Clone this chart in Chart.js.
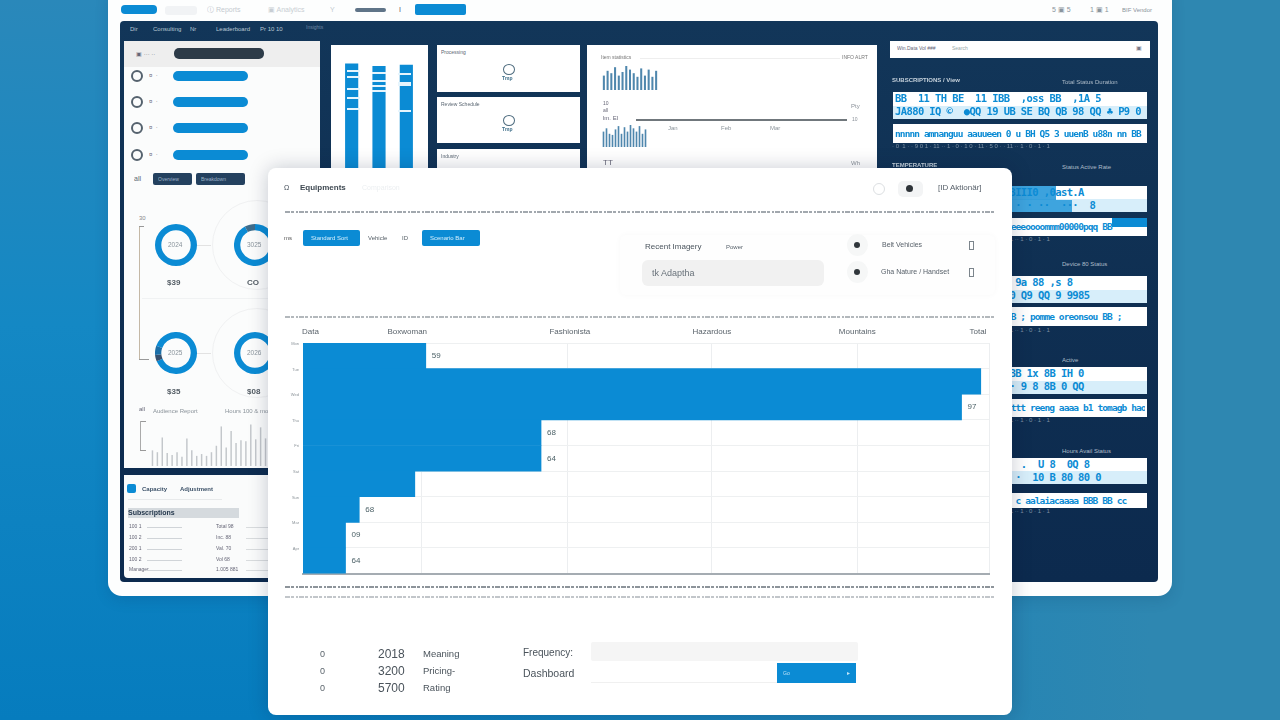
<!DOCTYPE html>
<html><head><meta charset="utf-8">
<script src="https://cdn.jsdelivr.net/npm/chart.js@4"></script>
<style>
html,body{margin:0;padding:0;width:1280px;height:720px;overflow:hidden}
#stage{position:absolute;left:0;top:0;width:1280px;height:720px;overflow:hidden;filter:blur(.4px);
 background:linear-gradient(90deg,rgba(46,135,177,0) 25%,#2e87b1 90%),linear-gradient(180deg,#2a88ba 0%,#1488c4 45%,#067cbe 100%);font-family:"Liberation Sans",sans-serif;color:#3c4650}
#stage div{position:absolute;box-sizing:border-box;white-space:pre;overflow:hidden}
#stage canvas{position:absolute}
</style></head><body><div id="stage"></div>
<script>
/* ---------- main chart data ---------- */
const rowLabels=['Mon','Tue','Wed','Thu','Fri','Sat','Sun','Mar','Apr'];
const rowValues=[17.9,98.8,96.0,34.7,34.7,16.3,8.2,6.2,6.2];
const rowTexts=['59','','97','68','64','','68','09','64'];
const gridTicks=[17.3,38.6,59.6,80.8,100];
const axisTickValues=[1.1,15.2,38.9,59.6,80.8,98.4];
const axisTickTexts=['Data','Boxwoman','Fashionista','Hazardous','Mountains','Total'];
/* ---------- small chart data ---------- */
const columnNames=['A','B','C'];
const columnValues=[93,91,92];
const donutOne=[100];
const donutTwo=[92,8];
const donutThree=[88,5,7];
const donutFour=[100];
const miniNames=['a','b','c','d','e','f','g','h','i','j','k','l','m','n','o','p','q','r','s','t','u','v','w','x'];
const miniValues=[34,30,62,28,24,30,20,60,34,22,26,22,30,44,86,40,76,50,56,54,90,58,84,60];
const sparkNames=['a','b','c','d','e','f','g','h','i','j','k','l','m','n','o'];
const sparkTop=[60,80,70,95,60,75,100,85,70,55,90,60,85,55,80];
const sparkLow=[70,85,60,55,80,95,60,90,70,100,85,70,95,60,80];

const S=document.getElementById('stage');
function box(x,y,w,h,css,txt){const d=document.createElement('div');
 d.style.cssText=`left:${x}px;top:${y}px;width:${w}px;height:${h}px;`+(css||'');
 if(txt!==undefined)d.textContent=txt;S.appendChild(d);return d;}
function label(x,y,txt,size,color,extra){return box(x,y-size*.7,txt.length*size+20,size*1.4,
 `font-size:${size}px;line-height:${size*1.4}px;color:${color||'#48525c'};`+(extra||''),txt);}
function chartAt(x,y,w,h,cfg){const c=document.createElement('canvas');
 c.style.cssText=`left:${x}px;top:${y}px;width:${w}px;height:${h}px`;c.width=w;c.height=h;S.appendChild(c);
 cfg.options=Object.assign({responsive:false,animation:false,devicePixelRatio:1},cfg.options);
 cfg.options.plugins=Object.assign({legend:{display:false},tooltip:{enabled:false}},cfg.options.plugins);
 return new Chart(c,cfg);}
const BLUE='#0b8bd4',NAVY='#0f2f52';

/* back window */
box(108,-14,1064,610,'background:#fdfefe;border-radius:14px;box-shadow:0 4px 14px rgba(0,40,80,.15)');
box(120,21,1038,561,`background:linear-gradient(180deg,#123659 0%,#0f2f52 50%,#0c2a4e 100%);border-radius:4px`);
box(121,5,36,9,`background:${BLUE};border-radius:4px`);
box(165,6,32,9,'background:#f1f3f5;border-radius:3px');
label(207,10,'Ⓘ Reports',7,'#c4cad0');label(268,10,'▣ Analytics',7,'#c8ced3');label(330,10,'Y',7,'#c4cad0');
box(355,8,31,3.5,'background:#5f7488;border-radius:2px');label(399,10,'I',7,'#556');
box(415,4,51,11,`background:${BLUE};border-radius:2px`);
label(1052,10,'5 ▣ 5',7,'#8a949c');label(1090,10,'1 ▣ 1',7,'#8a949c');label(1122,10,'BIF Vendor',6,'#8a949c');
label(130,29,'Dir',6,'#b9c6d3');label(153,29,'Consulting',6,'#b9c6d3');label(190,29,'Nr',6,'#b9c6d3');label(216,29,'Leaderboard',6,'#b9c6d3');label(260,29,'Pr 10 10',6,'#b9c6d3');label(306,27,'Insights',5,'#6d88a3');

/* left panel */
box(124,41,196,427,'background:#fbfcfc');
box(124,41,196,26,'background:#eeeeee');
box(174,48,90,11,'background:#2d3b48;border-radius:5px');
label(136,54,'▣ ··· ··',6,'#667');
[71,97,123,150].forEach(y=>{box(173,y,75,9.5,`background:${BLUE};border-radius:5px`);
 box(131,y-1,12,12,'border:2px solid #55626e;border-radius:50%');label(149,y+4,'¤  ·',6,'#667');});
label(134,179,'all',7,'#5a6772');
box(153,173,39,12,'background:#24415f;border-radius:2px');box(196,173,49,12,'background:#24415f;border-radius:2px');
label(158,179,'Overview',5,'#9fb4c9');label(201,179,'Breakdown',5,'#9fb4c9');
label(139,218,'30',6,'#888');
box(139,226,1,134,'background:#c4b8a6');box(139,226,5,1,'background:#999');box(139,359,10,1,'background:#999');
box(142,298,126,1,'background:#f0f2f3');
box(212,200,90,90,'border:1px solid #f0f1f2;border-radius:50%');box(212,308,90,90,'border:1px solid #f0f1f2;border-radius:50%');
box(197,245,14,1,'background:#e2e2e2');box(197,353,14,1,'background:#e2e2e2');
[[155,224,donutOne,[BLUE]],[234,224,donutTwo,[BLUE,'#3f6d8c']],[155,332,donutThree,[BLUE,'#36506e','#1b6fa8']],[234,332,donutFour,[BLUE]]].forEach(d=>{
 chartAt(d[0],d[1],42,42,{type:'doughnut',data:{labels:d[2].map((_,i)=>'s'+i),datasets:[{data:d[2],backgroundColor:d[3],borderWidth:0}]},options:{cutout:'70%',rotation:d[2]===donutThree?-70:0,layout:{padding:0}}});});
label(168,245,'2024',6.5,'#8a949c');label(247,245,'3025',6.5,'#8a949c');label(168,353,'2025',6.5,'#8a949c');label(247,353,'2026',6.5,'#8a949c');
label(167,283,'$39',8,'#555e66','font-weight:bold');label(247,283,'CO',8,'#555e66','font-weight:bold');
label(167,392,'$35',8,'#555e66','font-weight:bold');label(247,392,'$08',8,'#555e66','font-weight:bold');
label(139,409,'all',6,'#667');label(153,411,'Audience Report',6,'#8b939a');label(225,411,'Hours 100 & more',6,'#8b939a');
box(140,421,6,1,'background:#999');box(140,421,1,30,'background:#aaa');box(140,450,6,1,'background:#999');
chartAt(150,420,118,46,{type:'bar',data:{labels:miniNames,datasets:[{data:miniValues,backgroundColor:'#c3c7cb',barPercentage:.3,categoryPercentage:1}]},
 options:{layout:{padding:0},scales:{x:{display:false},y:{display:false,min:0,max:100}}}});

/* bottom-left table */
box(124,475,196,103,'background:#fafbfb;border-radius:0 0 0 4px');
box(127,484,9,9,`background:${BLUE};border-radius:2px`);
label(142,489,'Capacity',6,'#3c5168','font-weight:bold');label(180,489,'Adjustment',6,'#3c5168','font-weight:bold');
box(128,499,94,1,'background:#e8eaeb');
label(128,513,'Subscriptions',7,'#25384d','font-weight:bold;background:#d5dade');
[[526,'100 1','Total 98'],[537,'100 2','Inc. 88'],[548,'200 1','Val. 70'],[559,'100 2','Vol 68'],[569,'Manager','1.005 881']].forEach(r=>{
 label(129,r[0],r[1],5,'#667');box(147,r[0]+1,35,1,'background:#d0d4d8');label(216,r[0],r[2],5,'#667');box(246,r[0]+1,24,1,'background:#d9dcde');});

/* column panel */
box(331,45,97,140,'background:#fff');
chartAt(338,55,82,125,{type:'bar',data:{labels:columnNames,datasets:[{data:columnValues,backgroundColor:BLUE,barThickness:12.5}]},
 options:{layout:{padding:0},scales:{x:{display:false},y:{display:false,min:0,max:100}}}});
[[347,70],[347,76],[347,88],[347,97],[347,108],[372,72],[372,80],[372,85],[372,90],[398,73],[398,82],[398,84],[410,110]].forEach(m=>box(m[0]>=410?398:m[0],m[1],m[0]===372?14:13,1.6,'background:#e6f5fd'));
/* three small cards */
[[45,47,'Processing'],[97,46,'Review Schedule'],[149,30,'Industry']].forEach(c=>{box(437,c[0],143,c[1],'background:#fff');label(441,c[0]+7,c[2],5,'#5a6672');});
[71,122].forEach(y=>{box(503,y-7,12,11,'border:1.5px solid #4d6b7e;border-radius:50%');label(502,y+7,'Tmp',5,'#3f6f8a','font-weight:bold');});

/* big spark panel */
box(587,45,290,130,'background:#fff');
label(601,57,'Item statistics',5,'#777');box(640,58,200,1,'background:#eee');label(842,57,'INFO ALRT',5,'#777');
chartAt(602,66,56,24,{type:'bar',data:{labels:sparkNames,datasets:[{data:sparkTop,backgroundColor:'#4f87ad',barPercentage:.55,categoryPercentage:1}]},
 options:{layout:{padding:0},scales:{x:{display:false},y:{display:false,min:0,max:100}}}});
chartAt(602,125,45,22,{type:'bar',data:{labels:sparkNames,datasets:[{data:sparkLow,backgroundColor:'#4f87ad',barPercentage:.55,categoryPercentage:1}]},
 options:{layout:{padding:0},scales:{x:{display:false},y:{display:false,min:0,max:100}}}});
box(636,119,211,1.6,'background:#70777c');
label(603,103,'10',5,'#667');label(603,110,'all',5,'#667');label(603,118,'lm. El',6,'#667');
label(851,106,'Pty',6,'#8a9199');label(852,119,'10',5,'#8a9199');label(851,163,'Wh',6,'#8a9199');
label(668,128,'Jan',6,'#8b949b');label(721,128,'Feb',6,'#8b949b');label(770,128,'Mar',6,'#8b949b');
label(603,163,'TT',8,'#667');

/* sidebar */
box(890,41,260,17,'background:#fff');
label(897,48,'Win.Data Vol ###',5,'#667');label(952,48,'Search',5,'#9aa');label(1136,48,'▣',6,'#778');
const sideHeads=[[80,'SUBSCRIPTIONS / View','Total Status Duration'],[165,'TEMPERATURE','Status Active Rate'],[262,'TOTAL/FREQUENCY','Device 80 Status'],[358,'LOCATION/BINARY','Active'],[449,'TRAFFIC','Hours Avail Status']];
sideHeads.forEach(h=>{label(892,h[0],h[1],6,'#c6d2dc','font-weight:bold');label(1062,h[0]+2,h[2],6,'#aebcc9');});
const sideRows=[
[92,27,'BB  11 TH BE  11 IBB  ,oss BB  ,1A 5','JA880 IQ ©  ●QQ 19 UB SE BQ QB 98 QQ ♣ P9 0 Q'],
[186,26,'BB 9A0 BE BH 88 9A  3III0 ,0ast.A','BB 88 BQ 7B BA 98 ·  · · ··  ···  8'],
[276,27,'BB 10 II  .IB  W  RH 9a 88 ,s 8','BB0 7 Q 81 BB 88 BB 0 Q9 QQ 9 9985'],
[367,27,'AB 10 11 ,9 BB II  ,BB 1x 8B IH 0','BB 8H 8 P 9Q 8B 8B ·· 9 8 8B 0 QQ'],
[458,26,'BA 90 A1  ,o1,   ,II  .  U 8  0Q 8','QQ BH 8B 8B 10 10 8H ·  10 B 80 80 0']];
const sideThin=[[124,19,'nnnnn amnanguu aauueen 0 u BH Q5 3 uuenB u88n nn BB BB uuu88u ua nna'],[218,18,'ssssss ee0eeee BB ABB0 ceeeoooommm00000pqq BB'],[307,19,'w.p BB ; pommeoreonsou BB ; pomme oreonsou BB ;'],[399,18,'aaaaa aa8 bb eee aaaa1 tttt reeng aaaa b1 tomagb hao'],[493,15,'aaaaa888 Qq aaauu  ee Bc c aalaiacaaaa BBB BB cc']];
sideRows.forEach(r=>{box(893,r[0],254,r[1],'background:#fff');
 box(893,r[0]+r[1]*.5,254,r[1]*.5,'background:#d7eefa');
 const T=`font-family:"DejaVu Sans Mono";font-weight:bold;font-size:10.5px;letter-spacing:-.6px;color:${BLUE};`;
 box(895,r[0]+0,250,13,T+'line-height:13px',r[2]);box(895,r[0]+13,250,13,T+'line-height:13px',r[3]);});
sideThin.forEach(r=>{box(893,r[0],254,r[1],'background:#fff');
 box(895,r[0],250,r[1],`font-family:"DejaVu Sans Mono";font-weight:bold;font-size:9.5px;letter-spacing:-.9px;line-height:${r[1]}px;color:${BLUE}`,r[2]);});
box(1012,186,44,14,`background:${BLUE};opacity:.8`);box(1012,200,60,12,`background:${BLUE};opacity:.75`);box(1112,218,35,9,`background:${BLUE}`);
[[146],[239],[330],[420],[511]].forEach(r=>label(892,r[0],'· 0  1 · · 9 0 1 · 11 ·· 1 · 0 · 1 0 · 11 · 5 0 · · 11 ·· 1 · 0 · 1 · 1',6,'#7d90a3'));

/* main card */
box(268,168,744,547,'background:#fff;border-radius:8px;box-shadow:0 0 20px rgba(0,20,50,.22)');
label(284,188,'Ω',7,'#4b5560');label(300,188,'Equipments',8,'#3f4952','font-weight:bold');label(362,188,'Comparison',7,'#eceff1');
box(873,183,12,12,'border:1px solid #dcdfe2;border-radius:50%');
box(898,181,25,16,'background:#f3f4f5;border-radius:5px');box(906,185,7,7,'background:#2e3338;border-radius:50%');
label(938,188,'[ID Aktionär]',8,'#565f68');
function dashes(y,col){box(285,y,710,1.5,`background:repeating-linear-gradient(90deg,${col} 0 5px,transparent 5px 6px,${col} 6px 9px,transparent 9px 11px,${col} 11px 13px,transparent 13px 14px)`);}
dashes(211,'#a2a8ae');dashes(316,'#b3b8bc');dashes(586,'#8d949a');dashes(596,'#c2c6ca');
label(284,238,'ms',6,'#555');
box(303,230,57,16,`background:${BLUE};border-radius:2px`);box(422,230,58,16,`background:${BLUE};border-radius:2px`);
label(311,238,'Standard Sort',6,'#d6effc');label(430,238,'Scenario Bar',6,'#d6effc');
label(368,238,'Vehicle',6,'#555e66');label(402,238,'ID',6,'#555e66');
box(620,235,375,60,'background:#fefefe;box-shadow:0 0 6px rgba(0,0,0,.03);border-radius:6px');
label(645,247,'Recent Imagery',8,'#4a545d');label(726,247,'Power',6,'#5a646d');
box(642,260,182,26,'background:#f1f1f1;border-radius:6px');label(652,273,'tk Adaptha',9,'#69727a');
[245,272].forEach(y=>{box(847,y-11,21,22,'background:#f6f7f7;border-radius:50%');box(854,y-3,6,6,'background:#30363b;border-radius:50%');box(969,y-4,5,9,'border:1px solid #7c858c');});
label(882,245,'Belt Vehicles',7,'#565f68');label(881,272,'Gha Nature / Handset',7,'#565f68');

const valueLabels={id:'valueLabels',afterDatasetsDraw(ch){const g=ch.ctx;g.save();g.font='8px "Liberation Sans"';g.fillStyle='#4d6268';g.textBaseline='middle';
 ch.getDatasetMeta(0).data.forEach((el,i)=>{if(rowTexts[i])g.fillText(rowTexts[i],el.x+6,el.y);});g.restore();}};
chartAt(280,322,720,258,{type:'bar',plugins:[valueLabels],data:{labels:rowLabels,datasets:[{data:rowValues,xAxisID:'x',yAxisID:'y',backgroundColor:BLUE,barPercentage:1,categoryPercentage:1,borderWidth:0}]},
 options:{indexAxis:'y',layout:{padding:{right:11,left:0,top:0,bottom:5}},scales:{
  x:{type:'linear',position:'bottom',min:0,max:100,afterBuildTicks(s){s.ticks=gridTicks.map(v=>({value:v}));},
     grid:{color:'#eceef0',drawTicks:false},border:{color:'#a5acb2',width:2},ticks:{display:false}},
  xTop:{type:'linear',position:'top',min:0,max:100,afterBuildTicks(s){s.ticks=axisTickValues.map(v=>({value:v}));},
     grid:{display:false,drawTicks:false},border:{display:false},afterFit(s){s.height=21;},
     ticks:{autoSkip:false,maxRotation:0,padding:6,font:{size:8,family:'Liberation Sans'},color:'#5b646c',callback(v,i){return axisTickTexts[i];}}},
  y:{type:'category',afterFit(s){s.width=23;},grid:{color:'#eef0f1',drawTicks:false},border:{display:false},
     ticks:{autoSkip:false,padding:4,labelOffset:-12,font:{size:4},color:'#8a9298'}}
 }}});

/* bottom form */
[[654,'2018','Meaning'],[671,'3200','Pricing-'],[688,'5700','Rating']].forEach(r=>{
 label(320,r[0],'0',9,'#5b646c');label(378,r[0],r[1],12,'#4a535b');label(423,r[0],r[2],9.5,'#4a535b');});
label(523,653,'Frequency:',10,'#4a535b');label(523,673,'Dashboard',10.5,'#4a535b');
box(591,642,267,19,'background:#f5f5f5;border-radius:2px');
box(591,664,186,19,'border-bottom:1px solid #f0f0f0');
box(777,663,79,20,`background:${BLUE}`);label(783,673,'Go',5,'#bfe4f8');label(847,673,'▸',6,'#bfe4f8');
</script></body></html>
